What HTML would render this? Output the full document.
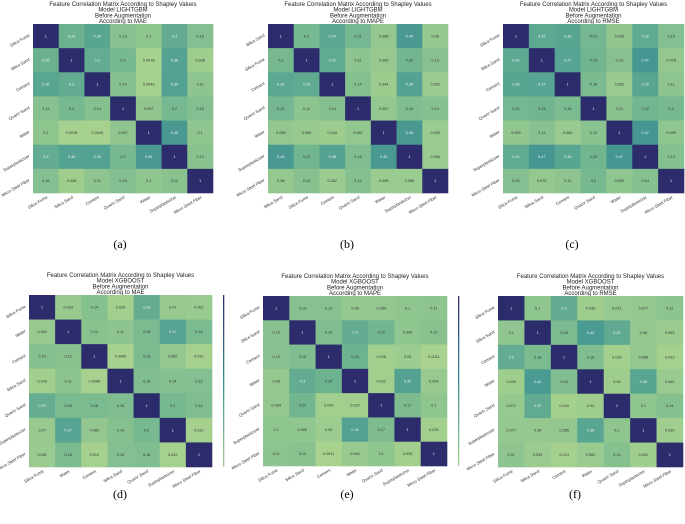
<!DOCTYPE html>
<html><head><meta charset="utf-8"><style>
html,body{margin:0;padding:0;background:#fff;}
svg{display:block;font-family:"Liberation Sans",sans-serif;}
</style></head><body>
<svg id="fig" width="685" height="524" viewBox="0 0 685 524"></svg>
<script>
const labelsA = ["Silica Fume","Silica Sand","Cement","Quartz Sand","Water","Superplasticizer","Micro Steel Fiber"];
const labelsB = ["Silica Sand","Silica Fume","Cement","Quartz Sand","Water","Superplasticizer","Micro Steel Fiber"];
const labelsD = ["Silica Fume","Water","Cement","Silica Sand","Quartz Sand","Superplasticizer","Micro Steel Fiber"];
const labelsE = ["Silica Fume","Silica Sand","Cement","Water","Quartz Sand","Superplasticizer","Micro Steel Fiber"];
const valuesA = [[1,.26,.36,.13,.1,.3,.15],[.26,1,.3,.2,.0078,.38,.038],[.36,.3,1,.14,.0043,.39,.11],[.13,.2,.14,1,.097,.2,.15],[.1,.0078,.0043,.097,1,.45,.1],[.3,.38,.39,.2,.45,1,.12],[.15,.038,.11,.15,.1,.12,1]];
const valuesB = [[1,.2,.34,.21,.085,.45,.08],[.2,1,.32,.11,.069,.22,.13],[.34,.32,1,.14,.044,.38,.052],[.21,.11,.14,1,.087,.16,.14],[.085,.069,.044,.087,1,.45,.055],[.45,.22,.38,.16,.45,1,.056],[.08,.13,.052,.14,.055,.056,1]];
const valuesC = [[1,.33,.36,.21,.093,.32,.15],[.33,1,.37,.23,.13,.47,.078],[.36,.37,1,.18,.062,.36,.11],[.21,.23,.18,1,.12,.22,.2],[.093,.13,.062,.12,1,.47,.099],[.32,.47,.36,.22,.47,1,.14],[.15,.078,.11,.2,.099,.14,1]];
const valuesD = [[1,.063,.14,.026,.29,.07,.061],[.063,1,.12,.11,.18,.37,.18],[.14,.12,1,.0085,.18,.082,.012],[.026,.11,.0085,1,.16,.14,.15],[.29,.18,.18,.16,1,.2,.16],[.07,.37,.082,.14,.2,1,.012],[.061,.18,.012,.15,.16,.012,1]];
const valuesE = [[1,.13,.13,.08,.084,.1,.11],[.13,1,.16,.3,.22,.096,.12],[.13,.16,1,.24,.026,.05,.0011],[.08,.3,.24,1,.022,.39,.064],[.084,.22,.026,.022,1,.17,.1],[.1,.096,.05,.39,.17,1,.025],[.11,.12,.0011,.064,.1,.025,1]];
const valuesF = [[1,.1,.3,.039,.071,.077,.11],[.1,1,.18,.44,.32,.08,.053],[.3,.18,1,.16,.016,.085,.013],[.039,.44,.16,1,.04,.36,.062],[.071,.32,.016,.04,1,.1,.14],[.077,.08,.085,.36,.1,1,.032],[.11,.053,.013,.062,.14,.032,1]];
const models = ["LIGHTGBM","LIGHTGBM","LIGHTGBM","XGBOOST","XGBOOST","XGBOOST"];
const metrics = ["MAE","MAPE","RMSE","MAE","MAPE","RMSE"];
const captions = ["(a)","(b)","(c)","(d)","(e)","(f)"];

const NS="http://www.w3.org/2000/svg";
const svg=document.getElementById('fig');
function mk(tag,attrs,parent){const e=document.createElementNS(NS,tag);for(const k in attrs)e.setAttribute(k,attrs[k]);(parent||svg).appendChild(e);return e;}
const stops=[[0,[168,210,142]],[0.2,[118,184,144]],[0.4,[80,160,145]],[0.55,[58,140,145]],[0.65,[44,116,144]],[0.75,[39,92,140]],[0.87,[44,69,132]],[1,[44,44,108]]];
function color(v){v=Math.max(0,Math.min(1,v));for(let i=1;i<stops.length;i++){if(v<=stops[i][0]){const a=stops[i-1],b=stops[i];const t=(v-a[0])/(b[0]-a[0]);const c=a[1].map((x,j)=>Math.round(x+(b[1][j]-x)*t));return `rgb(${c})`;}}return 'rgb(44,44,108)';}
function fmt(v){return String(v);}

const panels=[
 {L:labelsA,V:valuesA,x:33,y:24,w:180,h:169,cx:120,cy:248},
 {L:labelsB,V:valuesB,x:268,y:24,w:180,h:169,cx:347,cy:248},
 {L:labelsA,V:valuesC,x:503,y:24,w:181,h:169,cx:572,cy:248},
 {L:labelsD,V:valuesD,x:29,y:295,w:183,h:172,cx:120,cy:498},
 {L:labelsE,V:valuesE,x:263,y:296,w:184,h:170,cx:347,cy:498},
 {L:labelsE,V:valuesF,x:498,y:296,w:185,h:171,cx:575,cy:498}
];
panels.forEach((p,pi)=>{
  const g=mk('g',{});
  
  
  const n=p.L.length, cw=p.w/n, ch=p.h/n;
  const xs=j=>p.x+j*cw, ys=i=>p.y+i*ch;
  const tl=[`Feature Correlation Matrix According to Shapley Values`,`Model ${models[pi]}`,`Before Augmentation`,`According to ${metrics[pi]}`];
  tl.forEach((t,k)=>{const e=mk('text',{x:p.x+p.w/2,y:p.y-18+k*5.7,'font-size':6,'text-anchor':'middle',fill:'#222'},g);e.textContent=t;
    
    });
  p.V.forEach((row,i)=>row.forEach((v,j)=>{
    const r=mk('rect',{x:xs(j),y:ys(i),width:cw+0.3,height:ch+0.3,fill:color(v)},g);
    
    
    const t=mk('text',{x:xs(j)+cw/2,y:ys(i)+ch/2+1.3,'font-size':3.8,'text-anchor':'middle',fill:v>0.25?'#eef':'#333'},g);
    t.textContent=fmt(v);
    
    
  }));
  p.L.forEach((l,k)=>{
    const yx=p.x-3, yy=ys(k)+ch/2;
    const ty=mk('text',{x:yx,y:yy,'font-size':4.2,'text-anchor':'end',fill:'#333',transform:`rotate(-30 ${yx} ${yy})`},g);ty.textContent=l;
    
    
    const xx=xs(k)+cw/2+2, xy=p.y+p.h+5;
    const tx=mk('text',{x:xx,y:xy,'font-size':4.2,'text-anchor':'end',fill:'#333',transform:`rotate(-30 ${xx} ${xy})`},g);tx.textContent=l;
    
    
  });
  const c=mk('text',{x:p.cx,y:p.cy,'font-size':12,'text-anchor':'middle',fill:'#000','font-family':'Liberation Serif, serif'});
  c.textContent=captions[pi];
  
  
});
const defs=mk('defs',{});
const lg=mk('linearGradient',{id:'cb',x1:0,y1:0,x2:0,y2:1},defs);
mk('stop',{offset:0,'stop-color':'#2d2d6e'},lg);mk('stop',{offset:0.5,'stop-color':'#3a8c91'},lg);mk('stop',{offset:1,'stop-color':'#a5cd90'},lg);
[[223,295,172],[458,296,170]].forEach(b=>{
  const r=mk('rect',{x:b[0],y:b[1],width:1.3,height:b[2],fill:'url(#cb)'});
  
  
});
</script>
</body></html>
